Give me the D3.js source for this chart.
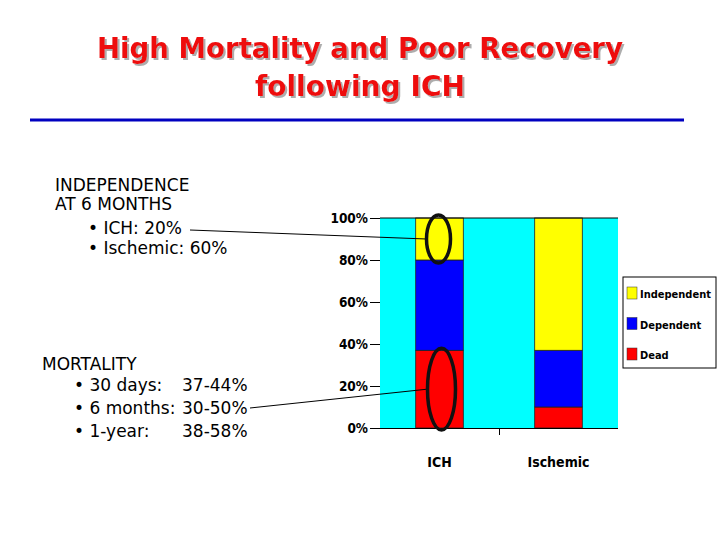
<!DOCTYPE html>
<html>
<head>
<meta charset="utf-8">
<script src="https://cdn.jsdelivr.net/npm/d3@7"></script>
<style>
  body { margin: 0; background: #fff; }
  svg { display: block; }
</style>
</head>
<body>
<script>
var categories = ['ICH', 'Ischemic'];
var dead = [37, 10];
var dependent = [43, 27];
var independent = [20, 63];
var seriesNames = ['Independent', 'Dependent', 'Dead'];
var seriesColors = ['#ffff00', '#0000ff', '#ff0000'];
var yTicks = [0, 20, 40, 60, 80, 100];

var independenceLines = ['INDEPENDENCE', 'AT 6 MONTHS'];
var independenceItems = ['ICH: 20%', 'Ischemic: 60%'];
var mortalityItems = ['30 days:', '6 months:', '1-year:'];
var mortalityValues = ['37-44%', '30-50%', '38-58%'];

var svg = d3.select('body').append('svg').attr('width', 720).attr('height', 540);

var defs = svg.append('defs');
defs.append('filter').attr('id', 'shadow')
  .append('feDropShadow')
  .attr('dx', 2).attr('dy', 2).attr('stdDeviation', 0.6)
  .attr('flood-color', '#999').attr('flood-opacity', 0.8);

// title
var title = svg.append('g')
  .attr('font-family', 'DejaVu Sans')
  .attr('font-weight', 'bold')
  .attr('font-size', 28)
  .attr('text-anchor', 'middle')
  .attr('fill', '#ee1111')
  .attr('filter', 'url(#shadow)');
[['High Mortality and Poor Recovery', 58, 526], ['following ICH', 96, 210]].forEach(function (t) {
  title.append('text').attr('x', 360).attr('y', t[1])
    .attr('textLength', t[2]).attr('lengthAdjust', 'spacingAndGlyphs')
    .text(t[0]);
});

svg.append('line')
  .attr('x1', 30).attr('x2', 684).attr('y1', 120).attr('y2', 120)
  .attr('stroke', '#0000c0').attr('stroke-width', 3);

// chart
var x = d3.scaleBand().domain(categories).range([380, 618]).paddingInner(0.6).paddingOuter(0.3);
var y = d3.scaleLinear().domain([0, 100]).range([428, 218]);

var rows = categories.map(function (c, i) {
  return { cat: c, Dead: dead[i], Dependent: dependent[i], Independent: independent[i] };
});
var stack = d3.stack().keys(['Dead', 'Dependent', 'Independent'])(rows);

svg.append('rect')
  .attr('x', 380).attr('y', y(100))
  .attr('width', 238).attr('height', y(0) - y(100))
  .attr('fill', '#00ffff');

svg.selectAll('g.series').data(stack).enter().append('g')
  .attr('class', 'series')
  .attr('fill', function (d) { return seriesColors[seriesNames.indexOf(d.key)]; })
  .selectAll('rect').data(function (d) { return d; }).enter().append('rect')
  .attr('x', function (d) { return x(d.data.cat); })
  .attr('width', x.bandwidth())
  .attr('y', function (d) { return y(d[1]); })
  .attr('height', function (d) { return y(d[0]) - y(d[1]); })
  .attr('stroke', '#222').attr('stroke-width', 0.8);

var yAxis = svg.append('g')
  .attr('transform', 'translate(380,0)')
  .call(d3.axisLeft(y).tickValues(yTicks).tickSize(10).tickPadding(2)
    .tickFormat(function (d) { return d + '%'; }));
yAxis.select('.domain').remove();
yAxis.selectAll('text')
  .attr('font-family', 'DejaVu Sans Condensed').attr('font-weight', 'bold')
  .attr('font-size', 13.5).attr('fill', '#000');

svg.append('line').attr('x1', 380).attr('x2', 618)
  .attr('y1', y(100)).attr('y2', y(100)).attr('stroke', '#000');

var xAxis = svg.append('g')
  .attr('transform', 'translate(0,' + y(0) + ')')
  .call(d3.axisBottom(x).tickSize(0).tickPadding(29));
xAxis.select('.domain').attr('d', 'M380,0.5H618');
xAxis.selectAll('text')
  .attr('font-family', 'DejaVu Sans Condensed').attr('font-weight', 'bold')
  .attr('font-size', 14).attr('fill', '#000');
xAxis.append('line')
  .attr('x1', 499.5).attr('x2', 499.5).attr('y1', 0).attr('y2', 7)
  .attr('stroke', '#000');

// legend
var legend = svg.append('g').attr('transform', 'translate(623,277)');
legend.append('rect').attr('width', 93).attr('height', 91)
  .attr('fill', '#fff').attr('stroke', '#000');
seriesNames.forEach(function (s, i) {
  var g = legend.append('g').attr('transform', 'translate(4,' + (10 + i * 30.5) + ')');
  g.append('rect').attr('width', 10).attr('height', 12)
    .attr('fill', seriesColors[i]).attr('stroke', '#333').attr('stroke-width', 0.5);
  g.append('text').attr('x', 13).attr('y', 11)
    .attr('font-family', 'DejaVu Sans Condensed').attr('font-weight', 'bold')
    .attr('font-size', 11).text(s);
});

// highlight ellipses on the ICH bar
var cx = x('ICH') + x.bandwidth() / 2;
var ichTop = stack[2][0];
var ichDead = stack[0][0];
var ellipses = [
  { cx: cx - 1, cy: (y(ichTop[0]) + y(ichTop[1])) / 2, rx: 12, ry: (y(ichTop[0]) - y(ichTop[1])) / 2 + 3, lx: 190, ly: 230 },
  { cx: cx + 2, cy: (y(ichDead[0]) + y(ichDead[1])) / 2, rx: 14, ry: (y(ichDead[0]) - y(ichDead[1])) / 2 + 2, lx: 250, ly: 408 }
];
ellipses.forEach(function (e) {
  svg.append('line')
    .attr('x1', e.lx).attr('y1', e.ly).attr('x2', e.cx - e.rx).attr('y2', e.cy)
    .attr('stroke', '#000').attr('stroke-width', 1);
  svg.append('ellipse')
    .attr('cx', e.cx).attr('cy', e.cy).attr('rx', e.rx).attr('ry', e.ry)
    .attr('fill', 'none').attr('stroke', '#111').attr('stroke-width', 3.5);
});

// left text
var notes = svg.append('g').attr('font-family', 'DejaVu Sans').attr('font-size', 17).attr('fill', '#000');
independenceLines.forEach(function (t, i) {
  notes.append('text').attr('x', 55).attr('y', 191 + i * 19).text(t);
});
independenceItems.forEach(function (t, i) {
  notes.append('text').attr('x', 88).attr('y', 234 + i * 20).text('\u2022 ' + t);
});
notes.append('text').attr('x', 42).attr('y', 370).text('MORTALITY');
mortalityItems.forEach(function (t, i) {
  notes.append('text').attr('x', 74).attr('y', 391 + i * 23).text('\u2022 ' + t);
  notes.append('text').attr('x', 182).attr('y', 391 + i * 23).text(mortalityValues[i]);
});
</script>
</body>
</html>
